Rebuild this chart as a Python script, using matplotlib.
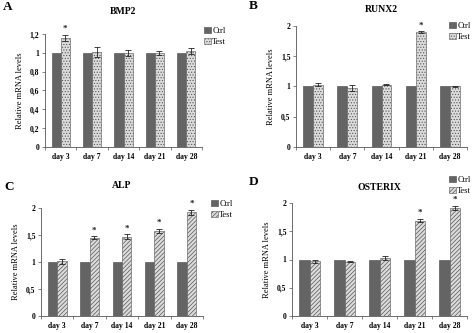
import numpy as np
import matplotlib
matplotlib.use("Agg")
import matplotlib.pyplot as plt
from matplotlib.ticker import FuncFormatter
from matplotlib.patches import Patch

plt.rcParams['font.family'] = ['Liberation Serif', 'DejaVu Serif']
plt.rcParams['font.weight'] = 'bold'
plt.rcParams['hatch.linewidth'] = 0.5
plt.rcParams['hatch.color'] = '#7a7a7a'

days = ['day 3', 'day 7', 'day 14', 'day 21', 'day 28']

bmp2_ctrl = [1, 1, 1, 1, 1]
bmp2_test = [1.16, 1.01, 1.00, 1.00, 1.02]
bmp2_err = [0.03, 0.05, 0.03, 0.02, 0.03]
bmp2_sig = [True, False, False, False, False]

runx2_ctrl = [1, 1, 1, 1, 1]
runx2_test = [1.03, 0.98, 1.03, 1.90, 1.00]
runx2_err = [0.02, 0.05, 0.01, 0.01, 0.01]
runx2_sig = [False, False, False, True, False]

alp_ctrl = [1, 1, 1, 1, 1]
alp_test = [1.01, 1.45, 1.47, 1.58, 1.92]
alp_err = [0.04, 0.03, 0.04, 0.04, 0.05]
alp_sig = [False, True, True, True, True]

osx_ctrl = [1, 1, 1, 1, 1]
osx_test = [0.97, 0.96, 1.03, 1.69, 1.91]
osx_err = [0.03, 0.01, 0.04, 0.03, 0.04]
osx_sig = [False, False, False, True, True]

W, H = 474, 333
fig = plt.figure(figsize=(W / 100, H / 100), dpi=100)

ctrl_color = '#646464'
test_color = '#dcdcdc'


def px_axes(left, right, top, bottom):
    return fig.add_axes([left / W, 1 - bottom / H, (right - left) / W, (bottom - top) / H])


def comma(v, pos):
    return ('%g' % v).replace('.', ',')


def panel(rect, letter, letter_xy, title, ctrl, test, err, sig, ymax, ystep, hatch, leg_xy):
    ax = px_axes(*rect)
    x = np.arange(len(days))
    w = 0.29
    ax.bar(x - w / 2, ctrl, w, color=ctrl_color, edgecolor='#444444', linewidth=0.4)
    ax.bar(x + w / 2, test, w, color=test_color, edgecolor='#555555', linewidth=0.4, hatch=hatch)
    ax.errorbar(x + w / 2, test, yerr=err, fmt='none', ecolor='#222222', elinewidth=0.6,
                capsize=2, capthick=0.6)
    for xi, t, e, s in zip(x, test, err, sig):
        if s:
            ax.text(xi + w / 2, t + e + ymax * 0.015, '*', ha='center', va='bottom',
                    fontsize=6.5, color='#222222')
    ax.set_xlim(-0.5, len(days) - 0.5)
    ax.set_ylim(0, ymax)
    ax.set_yticks(np.arange(0, ymax + 1e-9, ystep))
    ax.yaxis.set_major_formatter(FuncFormatter(comma))
    ax.set_xticks(x)
    ax.set_xticklabels(days)
    ax.set_xticks(np.arange(-0.5, len(days), 1), minor=True)
    ax.tick_params(axis='x', which='major', length=0, labelsize=5.5, pad=4)
    ax.tick_params(axis='x', which='minor', length=2, width=0.5, color='#555555')
    ax.tick_params(axis='y', length=2, width=0.5, labelsize=5.5, pad=2, color='#555555')
    for sp in ['top', 'right']:
        ax.spines[sp].set_visible(False)
    for sp in ['left', 'bottom']:
        ax.spines[sp].set_linewidth(0.6)
        ax.spines[sp].set_color('#555555')
    ax.set_ylabel('Relative mRNA levels', fontsize=6, labelpad=4)
    cx = (rect[0] + rect[1]) / 2
    fig.text(cx / W, 1 - title[1] / H, title[0], ha='center', va='center', fontsize=7)
    fig.text(letter_xy[0] / W, 1 - letter_xy[1] / H, letter, ha='left', va='center', fontsize=9.5)
    handles = [Patch(facecolor=ctrl_color, edgecolor='#444444', linewidth=0.4, label='Ctrl'),
               Patch(facecolor=test_color, edgecolor='#555555', linewidth=0.4, hatch=hatch,
                     label='Test')]
    fig.legend(handles=handles, loc='upper left', bbox_to_anchor=(leg_xy[0] / W, 1 - leg_xy[1] / H),
               frameon=False, handlelength=0.8, handleheight=0.8,
               handletextpad=0.2, labelspacing=0.35, borderpad=0, borderaxespad=0,
               prop={'family': ['Liberation Serif'], 'weight': 'normal', 'size': 6})
    return ax


panel((45, 202, 34, 147), 'A', (3, 7), ('BMP2', 11), bmp2_ctrl, bmp2_test, bmp2_err,
      bmp2_sig, 1.2, 0.2, '......', (204, 27))
panel((296, 467, 26, 147), 'B', (249, 6), ('RUNX2', 10), runx2_ctrl, runx2_test, runx2_err,
      runx2_sig, 2, 0.5, '......', (449, 22))
panel((41, 203, 208, 316), 'C', (4, 187), ('ALP', 185), alp_ctrl, alp_test, alp_err,
      alp_sig, 2, 0.5, '////////', (211, 200))
panel((292, 467, 203, 316), 'D', (249, 182), ('OSTERIX', 187), osx_ctrl, osx_test, osx_err,
      osx_sig, 2, 0.5, '////////', (449, 176))

fig.savefig('out.png', dpi=100)
